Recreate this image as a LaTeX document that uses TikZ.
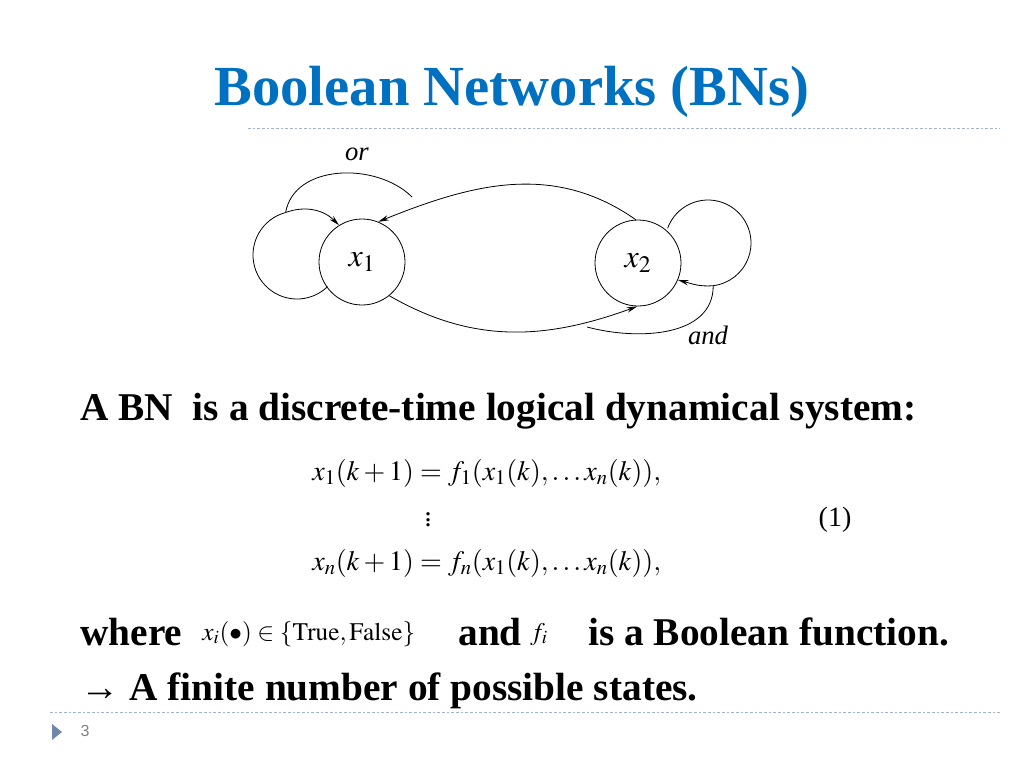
\documentclass[tikz,border=0pt]{standalone}
\usepackage{mathptmx}
\usepackage[no-math]{fontspec}
\setmainfont{Liberation Serif}
\setsansfont{Liberation Sans}
\usetikzlibrary{arrows.meta,calc}
\definecolor{titleblue}{RGB}{0,112,192}
\definecolor{rulegray}{RGB}{160,180,205}
\definecolor{markgray}{RGB}{110,135,170}
\tikzset{
  state/.style={draw,circle,fill=white,minimum size=86*0.75pt,inner sep=0pt,font=\fontsize{24}{24}\selectfont},
  link/.style={-{Stealth[length=8pt,width=4pt]}},
  body/.style={anchor=base west,inner sep=0pt,font=\fontsize{29.5}{32}\selectfont\bfseries},
  eqn/.style={anchor=base west,inner sep=0pt,font=\fontsize{21}{22}\selectfont},
  hrule/.style={rulegray,dashed,dash pattern=on 2pt off 1.5pt}
}
\begin{document}
\begin{tikzpicture}[x=0.75pt,y=0.75pt,line width=0.6pt]
\useasboundingbox (0,0) rectangle (1024,-768);
\node (title) at (512,-92) [font=\fontsize{42.5}{44}\selectfont\bfseries,text=titleblue] {Boolean Networks (BNs)};
\draw [hrule] (248,-128) -- (1000,-128);
\draw [hrule] (50,-712) -- (1000,-712);
%
\node (x1) at (362,-262) [state] {$x_1$};
\node (x2) at (638,-263) [state] {$x_2$};
\coordinate (loop1) at (297,-255);
\coordinate (loop2) at (708,-243);
\draw ($(loop1)+(105:44)$) arc[start angle=105,end angle=314,radius=44];
\draw ($(loop2)+(160:43)$) arc[start angle=160,end angle=-83,radius=43];
\coordinate (orend) at (412,-197);
\coordinate (andend) at (587,-327);
\draw [link] ($(loop1)+(105:44)$) to[out=20,in=135] (x1.122);
\draw ($(loop1)+(105:44)$) to[out=80,in=135] (orend);
\draw [link] (x2.93) to[out=145,in=22] (x1.68);
\draw [link] (x1.-51) to[out=-30,in=200] (x2.-91);
\draw [link] ($(loop2)+(-83:43)$) to[out=185,in=-15] (x2.-23);
\draw ($(loop2)+(-83:43)$) to[out=-90,in=-15] (andend);
\node (orlabel) at (357,-154) [font=\fontsize{20}{20}\selectfont\itshape] {or};
\node (andlabel) at (708,-335) [font=\fontsize{20}{20}\selectfont\itshape] {and};
%
\node (intro) at (80,-420) [body] {A BN\ \ is a discrete-time logical dynamical system:};
\node (eq1) at (312,-480) [eqn] {$x_1(k+1)=f_1(x_1(k),\ldots x_n(k)),$};
\node (dots) at (428,-516) [eqn,anchor=center] {$\vdots$};
\node (eqno) at (835,-520) [eqn,anchor=center] {(1)};
\node (eqn) at (312,-570) [eqn] {$x_n(k+1)=f_n(x_1(k),\ldots x_n(k)),$};
%
\node (where) at (80,-645) [body] {where};
\node (dom) at (202,-640) [eqn,font=\fontsize{19}{19}\selectfont] {$x_i(\bullet)\in\{\mathrm{True,False}\}$};
\node (and) at (458,-645) [body] {and};
\node (fi) at (530,-640) [eqn,font=\fontsize{19}{19}\selectfont] {$f_i$};
\node (isbool) at (588,-645) [body] {is a Boolean function.};
\node (finite) at (80,-700) [body] {→ A finite number of possible states.};
%
\fill [markgray] (52,-724) -- (62,-732) -- (52,-740) -- cycle;
\node (page) at (85,-731) [font=\fontsize{12}{12}\sffamily,text=gray] {3};
\end{tikzpicture}
\end{document}
